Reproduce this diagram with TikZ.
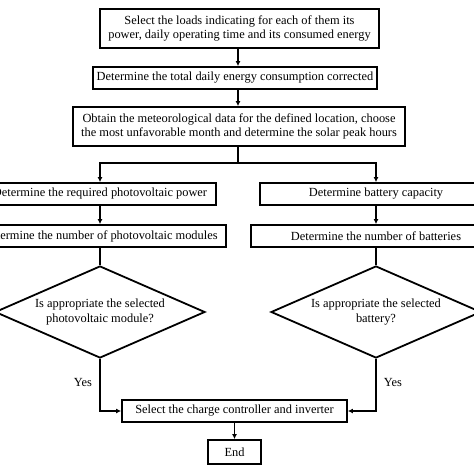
\documentclass[tikz,border=0pt]{standalone}
\usepackage{fontspec}
\setmainfont{Liberation Serif}
\usetikzlibrary{shapes.geometric,arrows.meta}
\begin{document}
\begin{tikzpicture}[x=1pt,y=-1pt,line width=1.8pt,
        box/.style={draw,align=center,inner sep=0pt,font=\fontsize{12.4}{14.5}\selectfont},
        dec/.style={draw,diamond,shape aspect=2.28,inner sep=0pt,minimum width=210pt,minimum height=92pt,
            align=center,font=\fontsize{12.4}{14.5}\selectfont},
        arr/.style={-{Latex[length=5pt,width=5pt]}}]
        \useasboundingbox (0,0) rectangle (474,474);
        \clip (0,0) rectangle (474,474);

        \node[box,minimum width=279pt,minimum height=39pt] (s1) at (239.5,28.5)
            {Select the loads indicating for each of them its\\power, daily operating time and its consumed energy};
        \node[box,minimum width=284pt,minimum height=22pt] (s2) at (235,78)
            {Determine the total daily energy consumption corrected};
        \node[box,minimum width=332pt,minimum height=39pt] (s3) at (239,126.5)
            {Obtain the meteorological data for the defined location, choose\\the most unfavorable month and determine the solar peak hours};

        \node[box,minimum width=232pt,minimum height=22pt] (pa) at (100,194) {Determine the required photovoltaic power};
        \node[box,minimum width=252pt,minimum height=22pt] (pb) at (100,236) {Determine the number of photovoltaic modules};
        \node[dec] (pd) at (100,312) {Is appropriate the selected\\photovoltaic module?};

        \node[box,minimum width=232pt,minimum height=22pt] (ba) at (376,194) {Determine battery capacity};
        \node[box,minimum width=250pt,minimum height=22pt] (bb) at (376,236) {Determine the number of batteries};
        \node[dec] (bd) at (376,312) {Is appropriate the selected\\battery?};

        \node[box,minimum width=225pt,minimum height=22pt] (f) at (234.5,411) {Select the charge controller and inverter};
        \node[box,minimum width=53pt,minimum height=24pt] (e) at (234.5,452) {End};

        \node[font=\fontsize{12.4}{14.5}\selectfont] (y1) at (83,382) {Yes};
        \node[font=\fontsize{12.4}{14.5}\selectfont] (y2) at (393,382) {Yes};

        \coordinate (j) at (238,163);
        \draw[arr] (s1.south -| j) -- (s2.north -| j);
        \draw[arr] (s2.south -| j) -- (s3.north -| j);
        \draw (s3.south -| j) -- (j);
        \draw[arr] (j) -| (pa.north);
        \draw[arr] (j) -| (ba.north);
        \draw[arr] (pa) -- (pb);
        \draw[arr] (ba) -- (bb);
        \draw (pb) -- (pd);
        \draw (bb) -- (bd);
        \draw[arr] (pd.south) |- (f.west);
        \draw[arr] (bd.south) |- (f.east);
        \draw[arr] (f) -- (e);
    \end{tikzpicture}
\end{document}
